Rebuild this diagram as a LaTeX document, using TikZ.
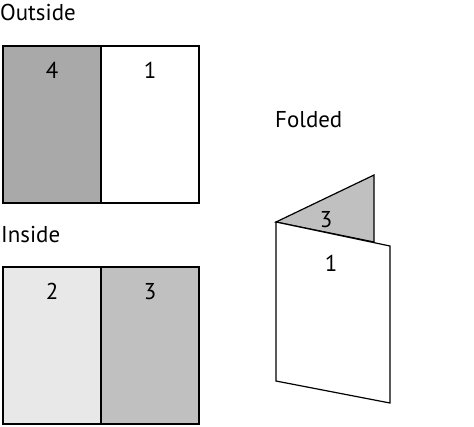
\documentclass[tikz,border=0pt]{standalone}
\usepackage{fontspec}
\setmainfont{PT Sans}
\usepackage{tikz}
\usetikzlibrary{positioning}
\usepackage{xcolor}
\definecolor{darkpanel}{HTML}{A9A9A9}
\definecolor{midpanel}{HTML}{C0C0C0}
\definecolor{lightpanel}{HTML}{E8E8E8}

\begin{document}
\begin{tikzpicture}[
    x=1bp, y=-1bp,
    panel/.style={rectangle, draw, line width=1.2bp, minimum width=98bp, minimum height=157bp, anchor=north west, inner sep=0pt, outer sep=0pt},
    num/.style={font=\fontsize{23}{23}\selectfont, inner sep=0pt},
    caption/.style={font=\fontsize{23}{23}\selectfont, anchor=base west, inner sep=0pt},
    sheet/.style={draw, line width=1.2bp, line join=miter}
]
\useasboundingbox (0,0) rectangle (474,426);

% outside of the sheet
\node[caption] (outside) at (0,20) {Outside};
\node[panel, fill=darkpanel] (p4) at (3,46) {};
\node[panel, fill=white] (p1) at (101,46) {};
\node[num, below=16bp of p4.north] (n4) {4};
\node[num, below=16bp of p1.north] (n1) {1};

% inside of the sheet
\node[caption] (inside) at (1,242) {Inside};
\node[panel, fill=lightpanel] (p2) at (3,267) {};
\node[panel, fill=midpanel] (p3) at (101,267) {};
\node[num, below=16bp of p2.north] (n2) {2};
\node[num, below=16bp of p3.north] (n3) {3};

% folded sheet
\node[caption] (folded) at (275,127) {Folded};
\coordinate (foldL) at (276,222);
\coordinate (backT) at (374,175);
\coordinate (backB) at (374,242);
\coordinate (frontTR) at (390,246);
\coordinate (frontBR) at (390,403);
\coordinate (frontBL) at (276,381);
\draw[sheet, fill=midpanel] (foldL) -- (backT) -- (backB) -- cycle;
\draw[sheet, fill=white] (foldL) -- (frontTR) -- (frontBR) -- (frontBL) -- cycle;
\node[num, anchor=base] (f3) at (326,227) {3};
\node[num, anchor=base] (f1) at (331,271) {1};

\end{tikzpicture}
\end{document}
